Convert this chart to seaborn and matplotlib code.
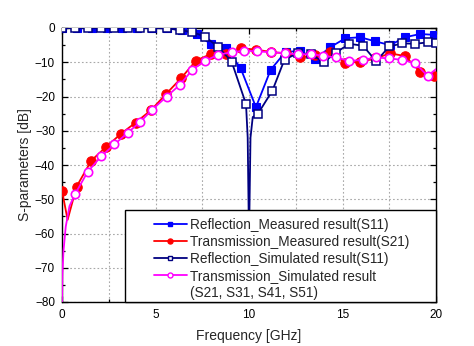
import matplotlib
matplotlib.use("Agg")
import matplotlib.pyplot as plt
from matplotlib.lines import Line2D
from matplotlib.patches import Rectangle
from matplotlib.ticker import MultipleLocator
import seaborn as sns

# ---------------- data ----------------
meas_s11_f = [0, 0.8, 1.6, 2.4, 3.2, 4.0, 4.8, 5.6, 6.4, 7.2, 7.96, 8.75, 9.55, 10.37,
              11.16, 11.96, 12.75, 13.55, 14.35, 15.15, 15.95, 16.75, 17.55, 18.35, 19.15, 19.9]
meas_s11_db = [0, 0, 0, 0, 0, 0, 0, -0.1, -0.6, -1.75, -4.7, -5.7, -11.7, -23.1,
               -12.2, -6.9, -6.8, -9.0, -5.6, -3.0, -2.7, -3.9, -5.0, -2.7, -1.75, -2.0]

meas_s21_f = [0, 0.3, 0.78, 1.57, 2.36, 3.15, 3.94, 4.76, 5.56, 6.36, 7.17, 7.96, 8.75,
              9.55, 10.37, 11.16, 11.96, 12.75, 13.55, 14.35, 15.15, 15.95, 16.75, 17.55,
              18.35, 19.15, 19.9]
meas_s21_db = [-47.5, -56, -46.3, -38.7, -34.7, -30.9, -27.6, -24.0, -19.3, -14.7, -9.5,
               -7.6, -7.5, -5.9, -6.3, -7.0, -7.4, -8.6, -8.0, -7.0, -10.1, -9.9, -8.9,
               -7.4, -8.2, -12.8, -14.0]

sim_s11_f = [0, 0.7, 1.37, 2.09, 2.8, 3.51, 4.17, 4.83, 5.6, 6.3, 6.97, 7.65, 8.36, 9.07,
             9.84, 9.93, 10.0, 10.08, 10.2, 10.46, 11.25, 11.9, 12.6, 13.3, 14.0, 14.65,
             15.36, 16.1, 16.8, 17.5, 18.2, 18.9, 19.55, 20]
sim_s11_db = [0, 0, 0, 0, 0, 0, 0, 0, -0.1, -0.6, -1.2, -2.5, -5.6, -9.8,
              -22.2, -32, -62, -32, -26, -25.2, -18.3, -9.2, -7.4, -7.6, -10.0, -7.2,
              -4.6, -5.2, -9.7, -5.4, -4.5, -4.6, -4.2, -4.5]

sim_s21_f = [0, 0.02, 0.08, 0.2, 0.4, 0.7, 1.37, 2.09, 2.8, 3.51, 4.17, 4.83, 5.6, 6.3,
             6.97, 7.65, 8.36, 9.07, 9.75, 10.45, 11.2, 11.9, 12.6, 13.3, 13.94, 14.65,
             15.36, 16.1, 16.8, 17.5, 18.2, 18.9, 19.55, 20]
sim_s21_db = [-80, -72, -65, -58, -52, -48.5, -42, -37.5, -34.0, -30.6, -27.5, -23.8,
              -20, -16.6, -12.2, -9.6, -7.8, -7.1, -6.6, -6.8, -7.1, -7.3, -7.7, -7.6,
              -8.1, -8.6, -9.6, -9.3, -8.6, -8.9, -9.3, -10.3, -14.0, -12.0]

labels = ["Reflection_Measured result(S11)",
          "Transmission_Measured result(S21)",
          "Reflection_Simulated result(S11)",
          "Transmission_Simulated result",
          "(S21, S31, S41, S51)"]

x_label = "Frequency [GHz]"
y_label = "S-parameters [dB]"

# ---------------- styling ----------------
sns.set_style("ticks")
plt.rcParams["font.family"] = ["Liberation Sans", "DejaVu Sans"]

c_meas_s11 = "#0000FF"
c_sim_s11 = "#000080"
c_meas_s21 = "#FF0000"
c_sim_s21 = "#FF00FF"

fig = plt.figure(figsize=(4.74, 3.46), dpi=100)
ax = fig.add_axes([62 / 474, 1 - 302 / 346, 374 / 474, 274 / 346])

lw = 1.3

sns.lineplot(x=meas_s11_f, y=meas_s11_db, ax=ax, color=c_meas_s11, linewidth=lw,
             marker="s", markersize=5.2, markerfacecolor=c_meas_s11,
             markeredgecolor=c_meas_s11, markeredgewidth=0.8,
             estimator=None, sort=False, zorder=3)

red_marks = [i for i in range(len(meas_s21_f)) if i != 1]
sns.lineplot(x=meas_s21_f, y=meas_s21_db, ax=ax, color=c_meas_s21, linewidth=lw,
             marker="o", markersize=6.8, markerfacecolor=c_meas_s21,
             markeredgecolor=c_meas_s21, markeredgewidth=0.8, markevery=red_marks,
             estimator=None, sort=False, zorder=4)

navy_marks = [i for i in range(len(sim_s11_f)) if i not in (15, 16, 17, 18)]
sns.lineplot(x=sim_s11_f, y=sim_s11_db, ax=ax, color=c_sim_s11, linewidth=lw,
             marker="s", markersize=5.2, markerfacecolor="white",
             markeredgecolor=c_sim_s11, markeredgewidth=1.1, markevery=navy_marks,
             estimator=None, sort=False, zorder=5)

mag_marks = list(range(5, len(sim_s21_f) - 1))
sns.lineplot(x=sim_s21_f, y=sim_s21_db, ax=ax, color=c_sim_s21, linewidth=lw,
             marker="o", markersize=6.0, markerfacecolor="white",
             markeredgecolor=c_sim_s21, markeredgewidth=1.2, markevery=mag_marks,
             estimator=None, sort=False, zorder=6)

ax.set_xlim(0, 20)
ax.set_ylim(-80, 0)
ax.xaxis.set_major_locator(MultipleLocator(5))
ax.xaxis.set_minor_locator(MultipleLocator(2.5))
ax.yaxis.set_major_locator(MultipleLocator(10))
ax.yaxis.set_minor_locator(MultipleLocator(5))

grid_kw = dict(color="#a8a8a8", linestyle=(0, (1.5, 2)), linewidth=0.8)
ax.grid(True, which="major", axis="both", **grid_kw)
ax.grid(True, which="minor", axis="x", **grid_kw)
ax.set_axisbelow(True)

ax.tick_params(which="both", direction="in", top=True, right=True, colors="black",
               labelsize=8.5, width=0.9)
ax.tick_params(which="major", length=4, pad=5)
ax.tick_params(which="minor", length=2.5)
for s in ax.spines.values():
    s.set_color("black")
    s.set_linewidth(1.0)

ax.set_xlabel(x_label, fontsize=10, labelpad=6)
ax.set_ylabel(y_label, fontsize=10, labelpad=2)

# legend frame
x0 = (125 - 62) / 374
ax.add_patch(Rectangle((x0, 0), 1 - x0, (302 - 210) / 274, transform=ax.transAxes,
                       facecolor="white", edgecolor="black", linewidth=1.0,
                       zorder=10, clip_on=False))

handles = [
    Line2D([], [], color=c_meas_s11, lw=lw, marker="s", ms=3.2, mfc=c_meas_s11, mec=c_meas_s11),
    Line2D([], [], color=c_meas_s21, lw=lw, marker="o", ms=3.6, mfc=c_meas_s21, mec=c_meas_s21),
    Line2D([], [], color=c_sim_s11, lw=lw, marker="s", ms=3.2, mfc="white", mec=c_sim_s11, mew=1),
    Line2D([], [], color=c_sim_s21, lw=lw, marker="o", ms=3.6, mfc="white", mec=c_sim_s21, mew=1),
    Line2D([], [], linestyle="none"),
]
leg = ax.legend(handles, labels, loc="upper left",
                bbox_to_anchor=((154 - 62) / 374, (302 - 218) / 274),
                frameon=False, borderaxespad=0, borderpad=0, fontsize=9.8,
                handlelength=2.4, handletextpad=0.25, labelspacing=0.22)
leg.set_zorder(11)

fig.savefig("out.png", dpi=100)
